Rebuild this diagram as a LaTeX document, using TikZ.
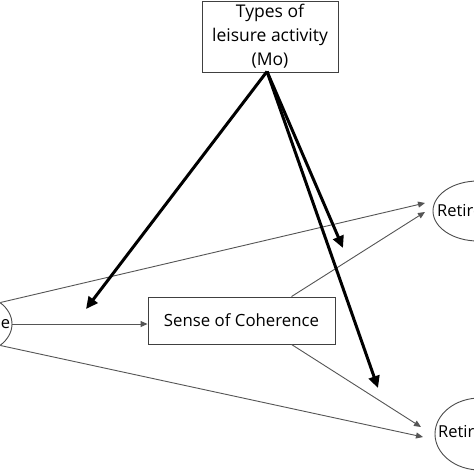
\documentclass[tikz,border=0pt]{standalone}
\usepackage{fontspec}
\setmainfont{Open Sans}
\usetikzlibrary{arrows.meta,shapes.geometric}
\definecolor{thin}{HTML}{555555}
\tikzset{
  boxnode/.style={draw=black!75, line width=0.9pt, rectangle, inner sep=0pt, align=center},
  ellnode/.style={draw=black!70, line width=0.9pt, ellipse, inner sep=0pt},
  lbl/.style={inner sep=0pt, font=\fontsize{16.5}{19}\selectfont},
  thinarrow/.style={draw=thin, line width=0.9pt, -{Triangle[length=7pt,width=6pt]}},
  thickarrow/.style={draw=black, line width=3pt, -{Triangle[length=12pt,width=11pt]}},
}
\begin{document}
\begin{tikzpicture}[x=1pt,y=-1pt]
\useasboundingbox (0,0) rectangle (474,474);
\clip (0,0) rectangle (474,474);
\fill[white] (0,0) rectangle (474,474);
% nodes
\node[boxnode, minimum width=136pt, minimum height=71pt, font=\fontsize{17.5}{24}\selectfont] (mo) at (270,36.5) {Types of\\leisure activity\\(Mo)};
\node[boxnode, minimum width=187pt, minimum height=47pt, font=\fontsize{16.8}{20}\selectfont] (soc) at (241.5,320.5) {Sense of Coherence};
\node[ellnode, minimum width=80pt, minimum height=60pt] (iv) at (-28,324) {};
\node[lbl] (ivt) at (5.5,324) {e};
\node[ellnode, minimum width=90pt, minimum height=60pt] (r1) at (478,211) {};
\node[lbl, anchor=west] (r1t) at (437,211) {Retirement};
\node[ellnode, minimum width=90pt, minimum height=72pt] (r2) at (480,434) {};
\node[lbl, anchor=west] (r2t) at (438,432) {Retirement};
% coordinates
\coordinate (apex) at ([xshift=-3pt,yshift=1pt]mo.south);
\coordinate (t1) at (425,203);
\coordinate (t2) at (425,212);
\coordinate (t3) at (421,427);
\coordinate (t4) at (423,437);
\coordinate (m1) at (86,309);
\coordinate (m2) at (343,248);
\coordinate (m3) at (378,388);
% thin connectors
\draw[thinarrow] (iv.37) -- (t1);
\draw[thinarrow] (iv.east) -- (iv.east -| soc.west);
\draw[thinarrow] (iv.-37) -- (t4);
\draw[thinarrow] ([xshift=50pt]soc.north) -- (t2);
\draw[thinarrow] ([xshift=50pt]soc.south) -- (t3);
% thick connectors
\draw[thickarrow] (apex) -- (m1);
\draw[thickarrow] (apex) -- (m2);
\draw[thickarrow] (apex) -- (m3);
\end{tikzpicture}
\end{document}
